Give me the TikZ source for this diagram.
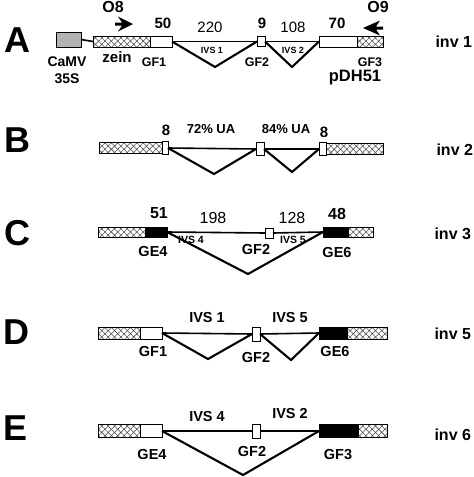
\documentclass[tikz,border=0pt]{standalone}
\usepackage{fontspec}
\setmainfont{Liberation Sans}
\usetikzlibrary{patterns.meta}
\tikzset{
  ex/.style={draw, line width=1pt, inner sep=0pt, outer sep=0pt},
  hatch/.style={ex, pattern={Hatch[angle=45,distance=4.5pt,line width=0.55pt]}, pattern color=black!70},
  wbox/.style={ex, fill=white},
  bbox/.style={ex, fill=black},
  gbox/.style={ex, fill=black!30},
  intr/.style={line width=1.6pt},
  tri/.style={line width=2.1pt, line join=miter},
  big/.style={font=\fontsize{36}{36}\selectfont\bfseries},
  inv/.style={font=\fontsize{16}{16}\selectfont\bfseries, anchor=west},
  laba/.style={font=\fontsize{12.5}{12.5}\selectfont\bfseries},
  lab/.style={font=\fontsize{14.5}{14.5}\selectfont\bfseries},
  num/.style={font=\fontsize{15}{15}\selectfont},
  bnum/.style={font=\fontsize{15}{15}\selectfont\bfseries},
  ivs/.style={font=\fontsize{9}{9}\selectfont\bfseries},
  ivsc/.style={font=\fontsize{10.5}{10.5}\selectfont\bfseries},
  oarrow/.style={fill=black},
}
\begin{document}
\begin{tikzpicture}[x=1pt,y=-1pt]
\useasboundingbox (0,0) rectangle (474,477);
% ---------------- Row A ----------------
\node[big] (la) at (17,40) {A};
\node[gbox, minimum width=25, minimum height=15] (camv) at (68.5,39.5) {};
\node[hatch, minimum width=57, minimum height=11] (zein) at (121.5,41.5) {};
\node[wbox, minimum width=22, minimum height=11] (gfa1) at (161,41.5) {};
\node[wbox, minimum width=8, minimum height=10] (gfa2) at (261,41.5) {};
\node[wbox, minimum width=38, minimum height=11] (gfa3) at (338,41.5) {};
\node[hatch, minimum width=26, minimum height=11] (pa3) at (370,41.5) {};
\coordinate (aa1) at (215,67);
\coordinate (aa2) at (292,67);
\draw[intr] (camv.east) -- (zein.west);
\draw[intr] (gfa1.east) -- (gfa2.west);
\draw[intr] (gfa2.east) -- (gfa3.west);
\draw[tri] (gfa1.east) -- (aa1) -- (gfa2.west);
\draw[tri] (gfa2.east) -- (aa2) -- (gfa3.west);
\node[font=\fontsize{14}{17}\selectfont\bfseries, align=center] (tcamv) at (67,70) {CaMV\\35S};
\node[font=\fontsize{15}{15}\selectfont\bfseries] (tzein) at (117,57) {zein};
\node[laba] (tgf1) at (154,62) {GF1};
\node[laba] (tgf2a) at (257,62) {GF2};
\node[laba] (tgf3a) at (370,62) {GF3};
\node[font=\fontsize{16.5}{16.5}\selectfont\bfseries] (tpdh) at (355,78) {pDH51};
\node[bnum] (t50) at (163,23) {50};
\node[num] (t220) at (210,27) {220};
\node[bnum] (t9) at (262,23) {9};
\node[num] (t108) at (293,27) {108};
\node[bnum] (t70) at (337,23) {70};
\node[ivs] (tivs1) at (212,50) {IVS 1};
\node[ivs] (tivs2) at (293,50) {IVS 2};
\node[font=\fontsize{16}{16}\selectfont\bfseries] (to8) at (113,7) {O8};
\node[font=\fontsize{16}{16}\selectfont\bfseries] (to9) at (378,7) {O9};
% primer arrows
\coordinate (o8) at (115,24);
\coordinate (o9) at (383,28);
\fill[oarrow, shift={(o8)}] (0,-1.5) -- (7,-1.5) -- (3,-7.5) -- (18,0) -- (3,7.5) -- (7,1.5) -- (0,1.5) -- cycle;
\fill[oarrow, shift={(o9)}] (0,-1.5) -- (-7,-1.5) -- (-3,-7.5) -- (-20,0) -- (-3,7.5) -- (-7,1.5) -- (0,1.5) -- cycle;
\node[inv] (inv1) at (432,42) {inv 1};
% ---------------- Row B ----------------
\node[big] (lb) at (17,140) {B};
\node[hatch, minimum width=63, minimum height=11] (hb1) at (130.5,148) {};
\node[wbox, minimum width=6, minimum height=13] (wb1) at (165,148) {};
\node[wbox, minimum width=8, minimum height=13] (gfb2) at (260,149) {};
\node[wbox, minimum width=7, minimum height=13] (wb3) at (322.5,149) {};
\node[hatch, minimum width=57, minimum height=11] (hb3) at (354.5,149) {};
\coordinate (ab1) at (214,174);
\coordinate (ab2) at (292,172);
\draw[intr] (wb1.east) -- (gfb2.west);
\draw[intr] (gfb2.east) -- (wb3.west);
\draw[tri] (wb1.east) -- (ab1) -- (gfb2.west);
\draw[tri] (gfb2.east) -- (ab2) -- (wb3.west);
\node[bnum] (t8a) at (166,130) {8};
\node[font=\fontsize{13}{13}\selectfont\bfseries] (tua1) at (211,129) {72\% UA};
\node[font=\fontsize{13}{13}\selectfont\bfseries] (tua2) at (286,129) {84\% UA};
\node[bnum] (t8b) at (324,132) {8};
\node[inv] (inv2) at (433,150) {inv 2};
% ---------------- Row C ----------------
\node[big] (lc) at (17,233) {C};
\node[hatch, minimum width=47, minimum height=10] (hc1) at (121.5,232) {};
\node[bbox, minimum width=22, minimum height=10] (ge4c) at (156,232) {};
\node[wbox, minimum width=8, minimum height=10] (gfc2) at (269,233) {};
\node[bbox, minimum width=25, minimum height=10] (ge6c) at (335.5,232) {};
\node[hatch, minimum width=25, minimum height=10] (hc3) at (360.5,232) {};
\coordinate (ac) at (248,274);
\draw[intr] (ge4c.east) -- (gfc2.west);
\draw[intr] (gfc2.east) -- (ge6c.west);
\draw[tri] (ge4c.east) -- (ac) -- (ge6c.west);
\node[font=\fontsize{16}{16}\selectfont\bfseries] (t51) at (159,213) {51};
\node[font=\fontsize{16}{16}\selectfont] (t198) at (213,218) {198};
\node[font=\fontsize{16}{16}\selectfont] (t128) at (292,218) {128};
\node[font=\fontsize{16}{16}\selectfont\bfseries] (t48) at (337,214) {48};
\node[ivsc] (tivs4c) at (191,240) {IVS 4};
\node[ivsc] (tivs5c) at (293,240) {IVS 5};
\node[lab] (tge4c) at (153,252) {GE4};
\node[lab] (tgf2c) at (256,250) {GF2};
\node[lab] (tge6c) at (337,253) {GE6};
\node[inv] (inv3) at (431,234) {inv 3};
% ---------------- Row D ----------------
\node[big] (ld) at (16,332) {D};
\node[hatch, minimum width=42, minimum height=12] (hd1) at (119,333) {};
\node[wbox, minimum width=22, minimum height=12] (gf1d) at (151,333) {};
\node[wbox, minimum width=8, minimum height=14] (gfd2) at (256,334) {};
\node[bbox, minimum width=28, minimum height=12] (ge6d) at (333,333) {};
\node[hatch, minimum width=40, minimum height=12] (hd3) at (367,333) {};
\coordinate (ad1) at (208,359);
\coordinate (ad2) at (291,360);
\draw[intr] (gf1d.east) -- (gfd2.west);
\draw[intr] (gfd2.east) -- (ge6d.west);
\draw[tri] (gf1d.east) -- (ad1) -- (gfd2.west);
\draw[tri] (gfd2.east) -- (ad2) -- (ge6d.west);
\node[lab] (tivs1d) at (207,318) {IVS 1};
\node[lab] (tivs5d) at (290,318) {IVS 5};
\node[lab] (tgf1d) at (153,352) {GF1};
\node[lab] (tgf2d) at (256,358) {GF2};
\node[lab] (tge6d) at (335,352) {GE6};
\node[inv] (inv5) at (431,334) {inv 5};
% ---------------- Row E ----------------
\node[big] (le) at (16,428) {E};
\node[hatch, minimum width=42, minimum height=13] (he1) at (119,431) {};
\node[wbox, minimum width=22, minimum height=13] (ge4e) at (151,431) {};
\node[wbox, minimum width=8, minimum height=14] (gfe2) at (256,431) {};
\node[bbox, minimum width=39, minimum height=13] (gf3e) at (338.5,431) {};
\node[hatch, minimum width=29, minimum height=13] (he3) at (372.5,431) {};
\coordinate (ae) at (243,475);
\draw[intr] (ge4e.east) -- (gfe2.west);
\draw[intr] (gfe2.east) -- (gf3e.west);
\draw[tri] (ge4e.east) -- (ae) -- (gf3e.west);
\node[lab] (tivs4e) at (207,417) {IVS 4};
\node[lab] (tivs2e) at (290,414) {IVS 2};
\node[lab] (tge4e) at (152,455) {GE4};
\node[lab] (tgf2e) at (252,452) {GF2};
\node[lab] (tgf3e) at (338,455) {GF3};
\node[inv] (inv6) at (431,435) {inv 6};
\end{tikzpicture}
\end{document}
